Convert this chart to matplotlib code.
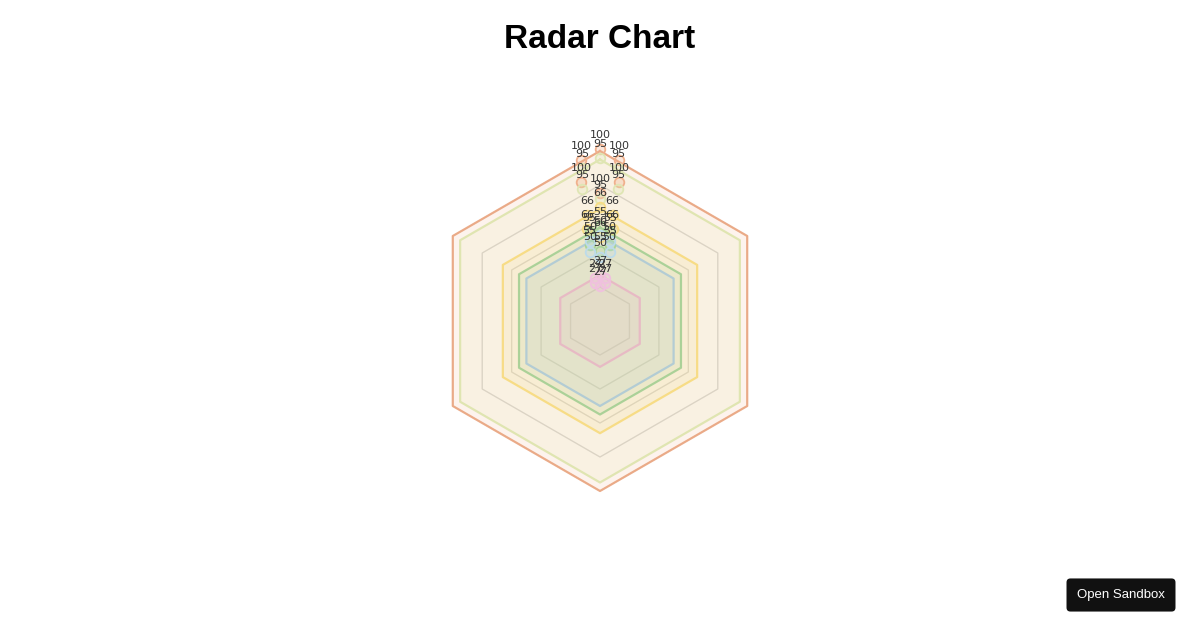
import numpy as np
import matplotlib
matplotlib.use('Agg')
import matplotlib.pyplot as plt
from matplotlib.colors import to_rgba

# series values (same value on all six axes)
series_names = ['A', 'B', 'C', 'D', 'E', 'F']
series_values = [100, 95, 66, 55, 50, 27]
line_colors = ['#eda37b', '#dbe3a8', '#f7d977', '#9fcd8f', '#aac8d6', '#e8b4c4']
fill_colors = ['#f3b58c', '#e8e8a8', '#f7dc80', '#a8d094', '#b0cad4', '#e8b4c0']
symbol_colors = ['#f0b08c', '#dfe6b4', '#f7dc84', '#a8d49a', '#bcdbea', '#f0c0de']
max_value = 100
n_axes = 6
grid_levels = [20, 40, 60, 80, 100]

# pixel layout of the radar
cx, cy = 600, 321
radius_px = 170
scale = radius_px / max_value

fig = plt.figure(figsize=(12, 6.3), dpi=100)
ax = fig.add_axes([0, 0, 1, 1])
ax.set_xlim(0, 1200)
ax.set_ylim(630, 0)
ax.axis('off')

angles = np.pi / 2 - np.arange(n_axes) * 2 * np.pi / n_axes
dir_x = np.cos(angles)
dir_y = -np.sin(angles)


def hexagon(v):
    xs = cx + v * scale * dir_x
    ys = cy + v * scale * dir_y
    return np.append(xs, xs[0]), np.append(ys, ys[0])


# grid rings
for lvl in grid_levels:
    xs, ys = hexagon(lvl)
    ax.plot(xs, ys, color='#d6d6d6', lw=1, zorder=1)

# filled polygons
for v, c, fc in zip(series_values, line_colors, fill_colors):
    xs, ys = hexagon(v)
    ax.fill(xs, ys, color=fc, alpha=0.15, lw=0, zorder=2)
    ax.plot(xs, ys, color=c, lw=1.6, alpha=0.85, zorder=3)

# symbols end up clustered above the centre
for v, c in zip(series_values, symbol_colors):
    ccy = cy - 1.5 * v
    px = cx + 0.22 * v * dir_x
    py = ccy + 0.22 * v * dir_y
    ax.scatter(px, py, s=48, facecolor=to_rgba(c, 0.3), edgecolor=c,
               linewidth=1.3, zorder=4)
    for x, y in zip(px, py):
        ax.text(x, y - 9, str(v), ha='center', va='bottom', fontsize=8,
                color='#333333', zorder=6)

fig.text(0.5, 1 - 40 / 630, 'Radar Chart', ha='center', va='center',
         fontsize=24, fontweight='bold', family='Liberation Sans')

fig.text(1121 / 1200, 1 - 595 / 630, 'Open Sandbox', ha='center', va='center',
         fontsize=9.5, color='white', family='Liberation Sans',
         bbox=dict(boxstyle='round,pad=0.8,rounding_size=0.3',
                   facecolor='#111111', edgecolor='none'))

fig.savefig('out.png', dpi=100)
